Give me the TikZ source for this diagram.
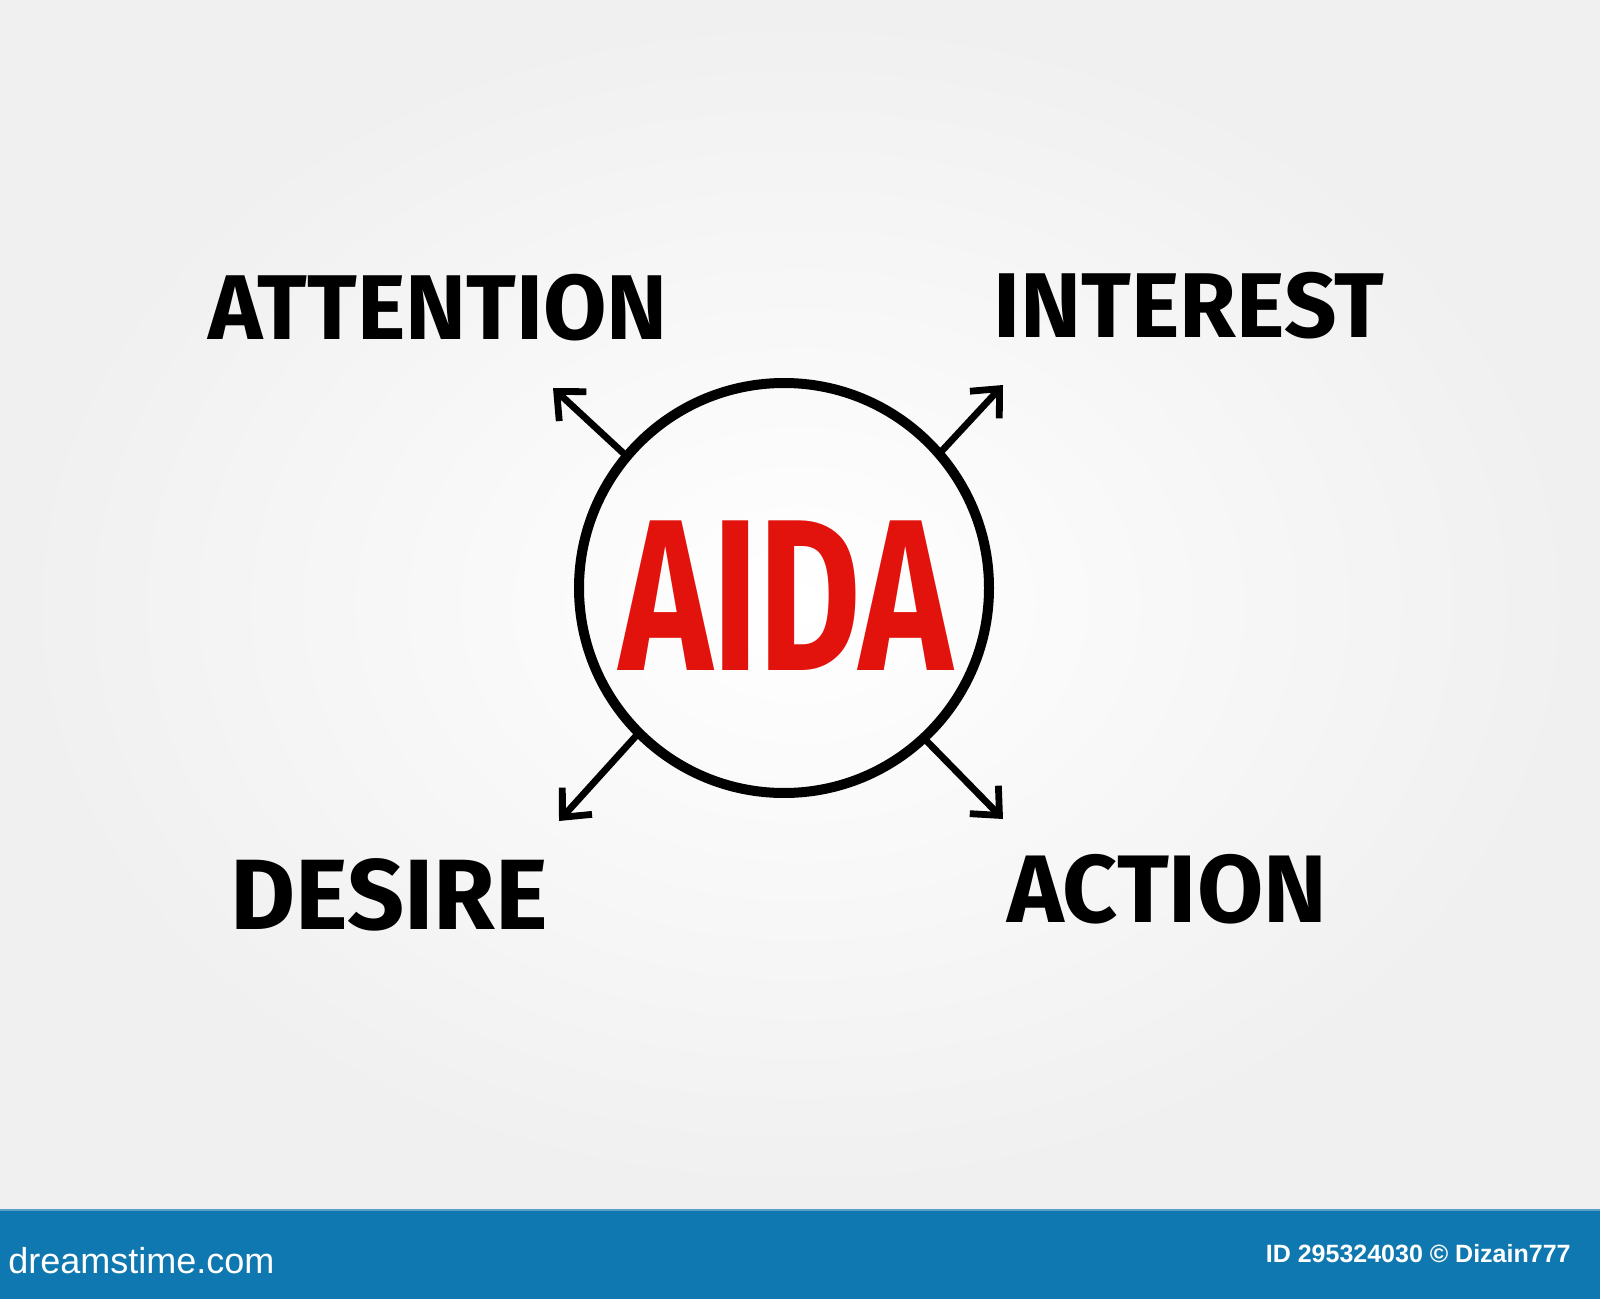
\documentclass[tikz,border=0pt]{standalone}
\usepackage{fontspec}
\setmainfont{Fira Sans}
\newfontfamily\footfont{Liberation Sans}
\usepackage{tikz}
\usetikzlibrary{arrows.meta}
\definecolor{aidared}{RGB}{226,18,12}
\definecolor{barblue}{RGB}{16,120,176}
\tikzset{
  word/.style={font=\fontsize{46}{52}\selectfont\bfseries, text=black, inner sep=0pt},
  spoke/.style={line width=3.4pt, line cap=round, -{Straight Barb[length=11pt, width=20pt, line width=3.4pt]}},
  foot/.style={font=\footfont\fontsize{12.5}{14}\selectfont\bfseries, text=white, inner sep=0pt}
}
\begin{document}
\begin{tikzpicture}[x=0.5pt, y=-0.5pt]
\useasboundingbox (0,0) rectangle (1600,1299);
% paper and footer
\shade[inner color=white, outer color=black!6] (0,0) rectangle (1600,1209);
\fill[barblue] (0,1209) rectangle (1600,1299);
\draw[barblue!70!white, line width=0.8pt] (0,1210) -- (1600,1210);
% centre
\node[circle, draw, line width=5pt, minimum size=205pt, inner sep=0pt] (hub) at (784,588) {};
\node[font=\fontsize{108}{110}\selectfont\bfseries, text=aidared, inner sep=0pt] (aida) at (786,596) {\scalebox{0.73}[1]{AIDA}};
% the four steps
\node[word] (attention) at (438,308) {ATTENTION};
\node[word] (interest) at (1189,306) {INTEREST};
\node[word, font=\fontsize{50}{56}\selectfont\bfseries] (desire) at (389,895) {DESIRE};
\node[word, font=\fontsize{48}{54}\selectfont\bfseries] (action) at (1167,889) {ACTION};
\coordinate (attn-tip) at (553,388);
\coordinate (int-tip) at (1003,385);
\coordinate (des-tip) at (559,821);
\coordinate (act-tip) at (1003,819);
\draw[spoke] (hub.140) -- (attn-tip);
\draw[spoke] (hub.41) -- (int-tip);
\draw[spoke] (hub.225) -- (des-tip);
\draw[spoke] (hub.-47) -- (act-tip);
% footer texts
\node[foot, anchor=west, font=\footfont\fontsize{18}{20}\selectfont] (site) at (8,1261) {dreamstime.com};
\node[foot, anchor=east] (imgid) at (1571,1254) {ID 295324030 © Dizain777};
\end{tikzpicture}
\end{document}
